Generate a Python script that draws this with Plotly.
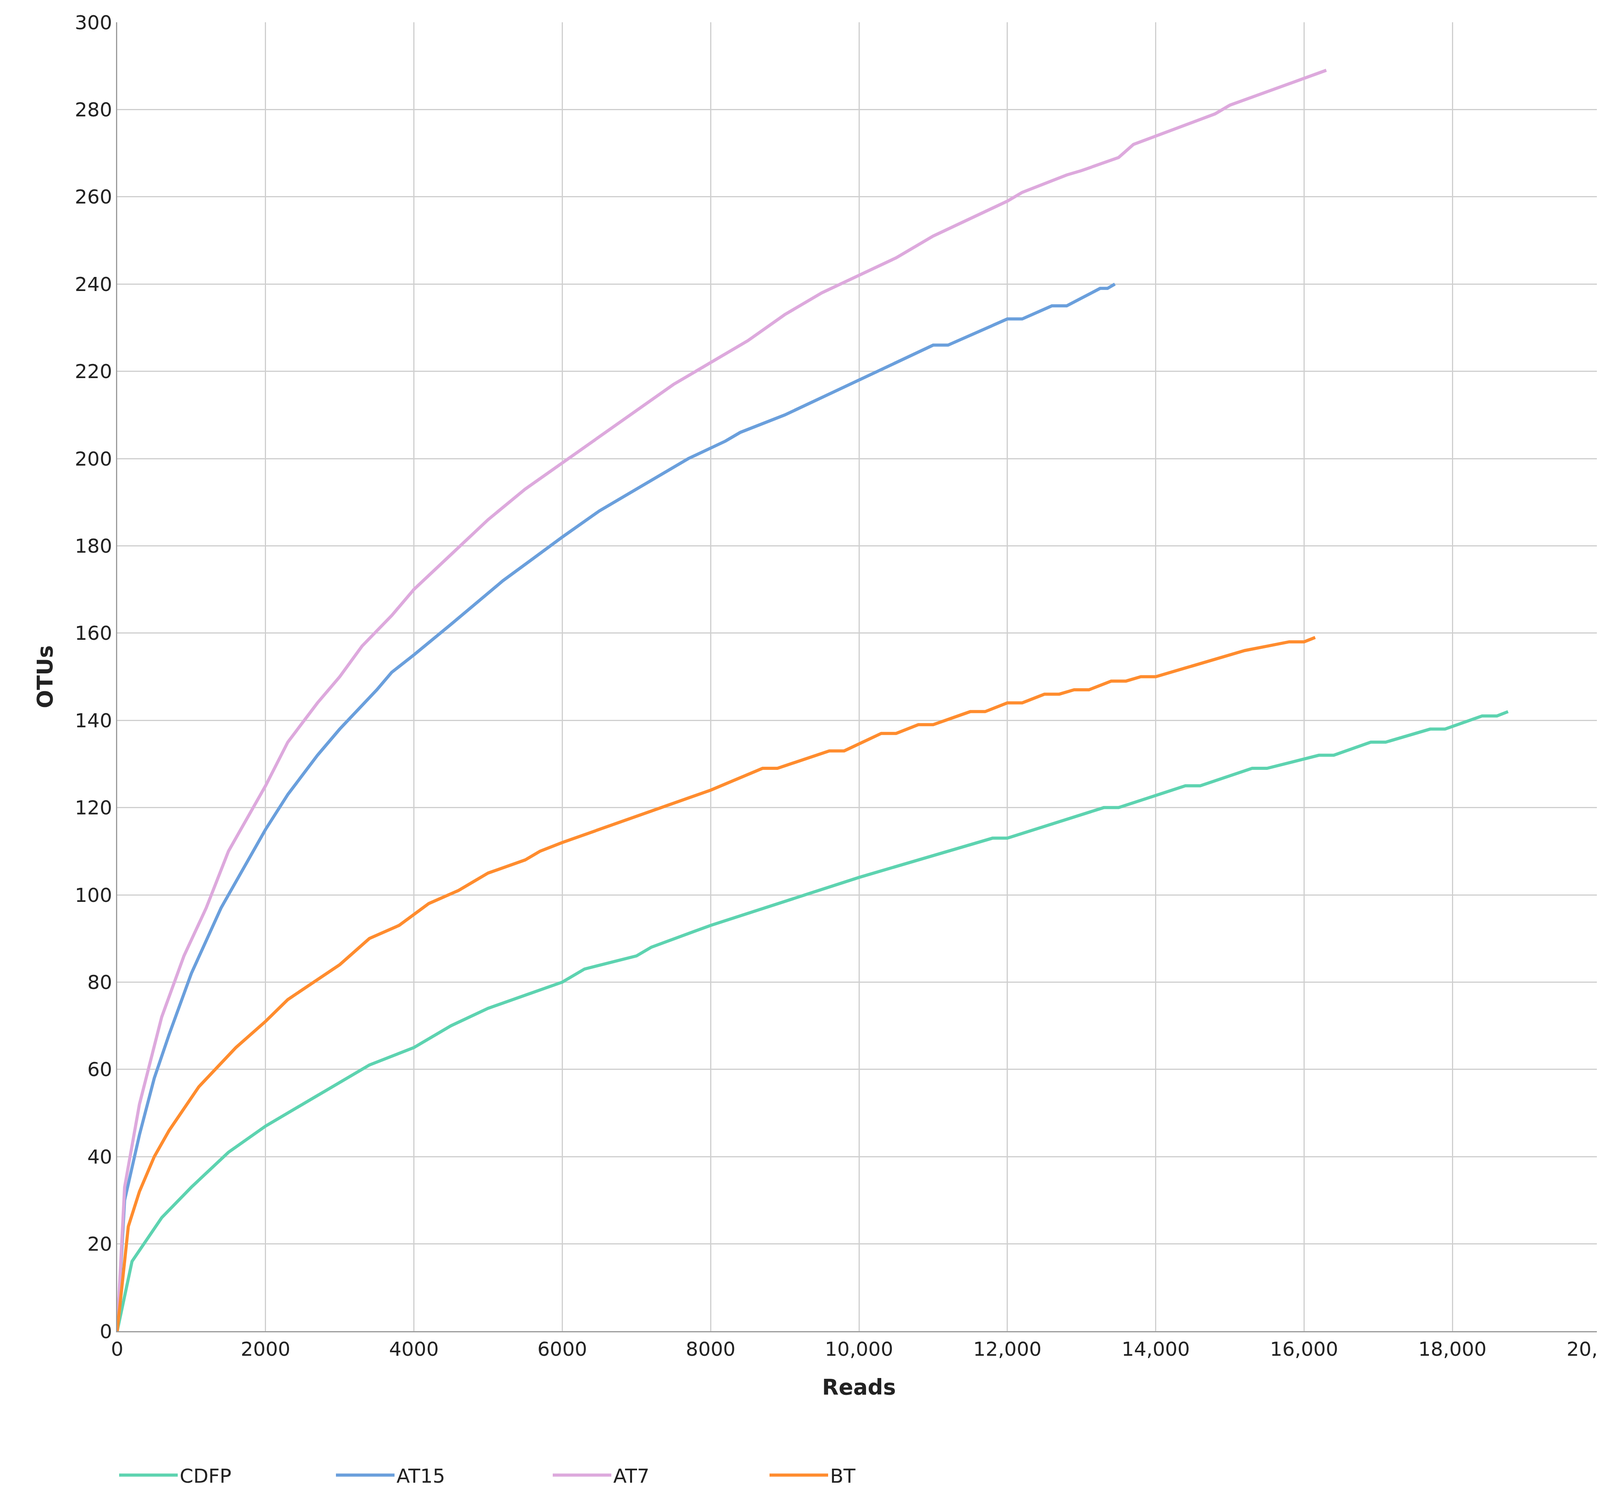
import plotly.graph_objects as go

cdfp_x = [0,200,600,1000,1500,2000,2700,3400,4000,4500,5000,5500,6000,6300,7000,7200,8000,10000,11800,12000,13300,13500,14400,14600,15300,15500,16200,16400,16900,17100,17700,17900,18400,18600,18750]
cdfp_y = [0,16,26,33,41,47,54,61,65,70,74,77,80,83,86,88,93,104,113,113,120,120,125,125,129,129,132,132,135,135,138,138,141,141,142]

at15_x = [0,100,300,500,700,1000,1400,1800,2000,2300,2700,3000,3500,3700,4000,4500,5000,5200,5600,6000,6500,6900,7300,7700,8200,8400,9000,10000,11000,11200,12000,12200,12600,12800,13250,13350,13450]
at15_y = [0,30,45,58,68,82,97,109,115,123,132,138,147,151,155,162,169,172,177,182,188,192,196,200,204,206,210,218,226,226,232,232,235,235,239,239,240]

at7_x = [0,100,300,600,900,1200,1500,2000,2300,2700,3000,3300,3700,4000,4500,5000,5500,6000,7000,7500,8000,8500,9000,9500,10000,10500,11000,11500,12000,12200,12800,13000,13500,13700,14800,15000,16300]
at7_y = [0,33,52,72,86,97,110,125,135,144,150,157,164,170,178,186,193,199,211,217,222,227,233,238,242,246,251,255,259,261,265,266,269,272,279,281,289]

bt_x = [0,150,300,500,700,1100,1600,2000,2300,3000,3400,3800,4200,4600,4800,5000,5500,5700,6000,7000,8000,8700,8900,9600,9800,10300,10500,10800,11000,11500,11700,12000,12200,12500,12700,12900,13100,13400,13600,13800,14000,14400,14600,15000,15200,15500,15800,16000,16150]
bt_y = [0,24,32,40,46,56,65,71,76,84,90,93,98,101,103,105,108,110,112,118,124,129,129,133,133,137,137,139,139,142,142,144,144,146,146,147,147,149,149,150,150,152,153,155,156,157,158,158,159]

x_ticks = [0,2000,4000,6000,8000,10000,12000,14000,16000,18000,20000]
x_labels = ["0","2000","4000","6000","8000","10,000","12,000","14,000","16,000","18,000","20,000"]

series = [("CDFP", cdfp_x, cdfp_y, "#5DD3B0"),
          ("AT15", at15_x, at15_y, "#6A9FDC"),
          ("AT7", at7_x, at7_y, "#DDA9DD"),
          ("BT", bt_x, bt_y, "#FF8C2E")]

fig = go.Figure()
for name, xs, ys, c in series:
    fig.add_trace(go.Scatter(x=xs, y=ys, name=name, mode="lines", line=dict(color=c, width=8)))

font = "DejaVu Sans, Verdana, sans-serif"
fig.update_layout(
    width=4230, height=3830, paper_bgcolor="white", plot_bgcolor="white",
    margin=dict(l=292, r=140, t=49, b=430),
    font=dict(family=font, size=50, color="#222"),
    legend=dict(orientation="h", x=0, y=-0.11, xanchor="left", yanchor="middle",
                font=dict(size=50), itemwidth=150, tracegroupgap=0,
                entrywidth=390, entrywidthmode="pixels"),
)
fig.update_xaxes(range=[0, 20000], tickvals=x_ticks, ticktext=x_labels,
                 showgrid=True, gridcolor="#CFCFCF", gridwidth=3,
                 showline=True, linecolor="#9A9A9A", linewidth=3, ticks="",
                 title=dict(text="<b>Reads</b>", font=dict(size=55), standoff=50), zeroline=False)
fig.update_yaxes(range=[0, 300], dtick=20,
                 showgrid=True, gridcolor="#CFCFCF", gridwidth=3,
                 showline=True, linecolor="#9A9A9A", linewidth=3, ticks="",
                 title=dict(text="<b>OTUs</b>", font=dict(size=55), standoff=40), zeroline=False)
fig.write_html("out.html")
